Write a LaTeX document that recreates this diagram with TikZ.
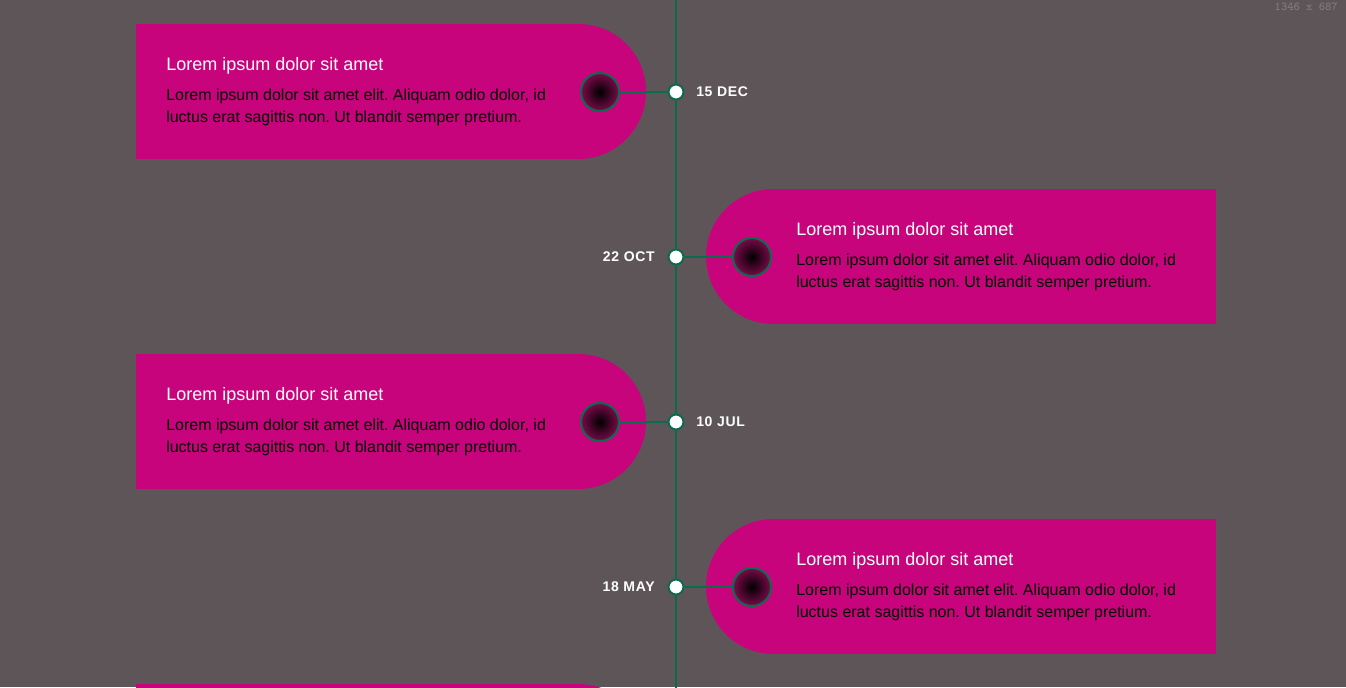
\documentclass[tikz,border=0pt]{standalone}
\usepackage{fontspec}
\setmainfont{Liberation Sans}
\frenchspacing
\definecolor{bg}{HTML}{5E5558}
\definecolor{mag}{HTML}{C8047C}
\definecolor{tl}{HTML}{0B6B4E}
\definecolor{dk}{HTML}{7A0A4A}
\begin{document}
\begin{tikzpicture}[x=0.75pt,y=-0.75pt,
  ttl/.style={anchor=base west,text=white,font=\fontsize{13.5}{16}\selectfont,inner sep=0},
  body/.style={anchor=north west,text=black,font=\fontsize{12}{16.5}\selectfont,inner sep=0,align=left},
  date/.style={text=white,font=\fontsize{10.5}{12}\selectfont\bfseries,inner sep=0},
  dot/.style={circle,fill=white,draw=tl,line width=1.5pt,minimum size=15pt*0.75,inner sep=0},
  knob/.style={circle,draw=tl,line width=1.5pt,minimum size=38pt*0.75,inner sep=0,inner color=black,outer color=dk}]
\useasboundingbox (0,0) rectangle (1346,687);
\fill[bg] (0,0) rectangle (1346,687);
\begin{scope}
\clip (0,0) rectangle (1346,687);
\draw[tl,line width=1.5pt] (676,-5) -- (676,700);
\foreach \y in {24,354,684}{
  \fill[mag] (136,\y) rectangle (578.5,\y+135);
  \fill[mag] (578.5,\y+67.5) circle[radius=67.5*0.75pt];
}
\foreach \y in {189,519}{
  \fill[mag] (773.5,\y) rectangle (1216,\y+135);
  \fill[mag] (773.5,\y+67.5) circle[radius=67.5*0.75pt];
}
\end{scope}
\foreach \y/\d [count=\i] in {24/15 DEC,354/10 JUL}{
  \node[ttl] (t\i) at (166,\y+46) {Lorem ipsum dolor sit amet};
  \node[body] (b\i) at (166,\y+65) {Lorem ipsum dolor sit amet elit. Aliquam odio dolor, id\\luctus erat sagittis non. Ut blandit semper pretium.};
  \node[knob] (k\i) at (600,\y+68) {};
  \node[dot] (d\i) at (676,\y+68) {};
  \draw[tl,line width=1.5pt] (k\i) -- (d\i);
  \node[date,anchor=west] (l\i) at (696,\y+68) {\addfontfeature{LetterSpace=5}\d};
}
\foreach \y/\d [count=\i] in {189/22 OCT,519/18 MAY}{
  \node[ttl] (rt\i) at (796,\y+46) {Lorem ipsum dolor sit amet};
  \node[body] (rb\i) at (796,\y+65) {Lorem ipsum dolor sit amet elit. Aliquam odio dolor, id\\luctus erat sagittis non. Ut blandit semper pretium.};
  \node[knob] (rk\i) at (752,\y+68) {};
  \node[dot] (rd\i) at (676,\y+68) {};
  \draw[tl,line width=1.5pt] (rk\i) -- (rd\i);
  \node[date,anchor=east] (rl\i) at (655,\y+68) {\addfontfeature{LetterSpace=5}\d};
}
\node[anchor=north east,text=gray,font=\ttfamily\fontsize{9}{10}\selectfont,inner sep=0] (sz) at (1338,3) {1346 x 687};
\end{tikzpicture}
\end{document}
